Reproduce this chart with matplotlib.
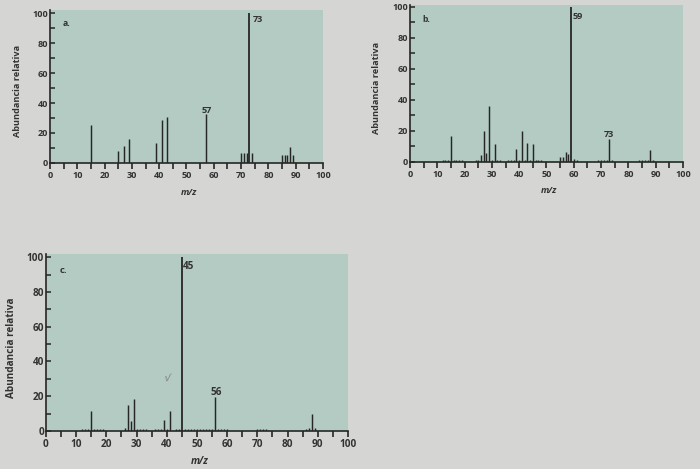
import matplotlib
matplotlib.use("Agg")
import matplotlib.pyplot as plt
from matplotlib.ticker import MultipleLocator

plt.rcParams['font.family'] = ['Open Sans', 'DejaVu Sans']

# spectrum a
mz_a = [15, 25, 27, 29, 39, 41, 43, 57, 70, 71, 72, 73, 74, 85, 86, 87, 88, 89]
int_a = [25, 8, 11.5, 16, 13, 28.5, 30.5, 32.5, 6.5, 6.5, 6.5, 100, 6.5, 5, 5, 5, 10.5, 5]

# spectrum b
mz_b = [12, 13, 14, 15, 16, 17, 18, 19, 24, 25, 26, 27, 28, 29, 30, 31, 32, 33, 36, 37, 38,
        39, 40, 41, 42, 43, 44, 45, 46, 47, 48, 55, 56, 57, 58, 59, 60, 61, 69, 70, 71, 72,
        73, 74, 84, 85, 86, 87, 88, 89]
int_b = [1, 1, 1, 16.5, 1, 1, 1, 1, 1, 1, 4.5, 20, 6, 36, 1, 11.5, 1, 1, 1, 1, 1,
         8.5, 1, 20, 1, 12.5, 1, 11.5, 1, 1, 1, 3, 3.5, 6.5, 5, 100, 2, 1, 1, 1, 1, 1,
         15, 1, 1, 1, 1, 1, 7.5, 1]

# spectrum c
mz_c = [12, 13, 14, 15, 16, 17, 18, 19, 26, 27, 28, 29, 30, 31, 32, 33, 36, 37, 38, 39, 40,
        41, 43, 44, 45, 46, 47, 48, 49, 50, 51, 52, 53, 54, 55, 56, 57, 58, 59, 60, 70, 71,
        72, 73, 86, 87, 88, 89]
int_c = [1, 1, 1, 11.5, 1, 1, 1, 1, 1.5, 15, 5.5, 18.5, 1, 1, 1, 1, 1, 1, 1, 6.5, 1,
         11.5, 1, 1, 100, 1, 1, 1, 1, 1, 1, 1, 1, 1, 1, 19.5, 1, 1, 1, 1, 1, 1,
         1, 1, 1, 1.5, 10, 2]

x_ticks = [0, 10, 20, 30, 40, 50, 60, 70, 80, 90, 100]
y_ticks = [0, 20, 40, 60, 80, 100]

# (letter, peak labels as (mz, text))
panels = [
    ("a.", mz_a, int_a, [(76.2, 96, "73"), (57.5, 35, "57")]),
    ("b.", mz_b, int_b, [(61.3, 94, "59"), (73, 17.5, "73")]),
    ("c.", mz_c, int_c, [(47.3, 94.5, "45"), (56.5, 22, "56")]),
]

page = '#d5d6d3'
shade = '#b3cbc3'
ink = '#262626'

fig = plt.figure(figsize=(7, 4.69), dpi=100, facecolor=page)

rects = [
    [0.0714, 0.6525, 0.39, 0.327],
    [0.5857, 0.6546, 0.39, 0.334],
    [0.0657, 0.0810, 0.4314, 0.377],
]
ytops = [102.3, 101, 101.7]
fsizes = [6.6, 6.6, 7.2]
ylab_x = [-0.103, -0.106, -0.096]
xlab_y = [-0.163, -0.154, -0.141]

for i, (letter, mz, inten, labels) in enumerate(panels):
    ax = fig.add_axes(rects[i])
    ax.set_facecolor(shade)
    lw = [1.3 if v == 100 else 1.05 for v in inten]
    ax.vlines(mz, 0, inten, colors=ink, linewidths=lw)
    ax.set_xlim(0, 100)
    ax.set_ylim(0, ytops[i])
    for s in ['top', 'right']:
        ax.spines[s].set_visible(False)
    for s in ['left', 'bottom']:
        ax.spines[s].set_color(ink)
        ax.spines[s].set_linewidth(1.2)
    fs = fsizes[i]
    ax.set_xticks(x_ticks)
    ax.set_xticklabels([str(t) for t in x_ticks], fontsize=fs, fontweight='bold', color='#333333')
    ax.xaxis.set_minor_locator(MultipleLocator(5))
    ax.set_yticks(y_ticks)
    ax.set_yticklabels([str(t) for t in y_ticks], fontsize=fs, fontweight='bold', color='#333333')
    ax.yaxis.set_minor_locator(MultipleLocator(10))
    ax.tick_params(axis='x', which='both', direction='out', length=4, width=1.2, color=ink, pad=1.5)
    ax.tick_params(axis='y', which='both', direction='in', length=3.5, width=1.1, color=ink, pad=1.5)
    ax.set_ylabel("Abundancia relativa", fontsize=fs, fontweight='bold', color='#333333')
    ax.yaxis.set_label_coords(ylab_x[i], 0.47)
    ax.set_xlabel("m/z", fontsize=fs, fontweight='bold', style='italic', color='#333333')
    ax.xaxis.set_label_coords(0.51, xlab_y[i])
    ax.text(0.045, 0.91, letter, transform=ax.transAxes, fontsize=fs - 0.4, fontweight='bold',
            color='#333333', ha='left', va='center')
    for x, y, t in labels:
        ax.text(x, y, t, fontsize=fs, fontweight='bold', color='#333333', ha='center', va='center')
    if letter == "c.":
        # pencil mark on the page
        ax.text(40, 30, "\u221a", fontsize=7, color='#777777', ha='center', va='center', rotation=-10)

fig.savefig("out.png", dpi=100, facecolor=page)
